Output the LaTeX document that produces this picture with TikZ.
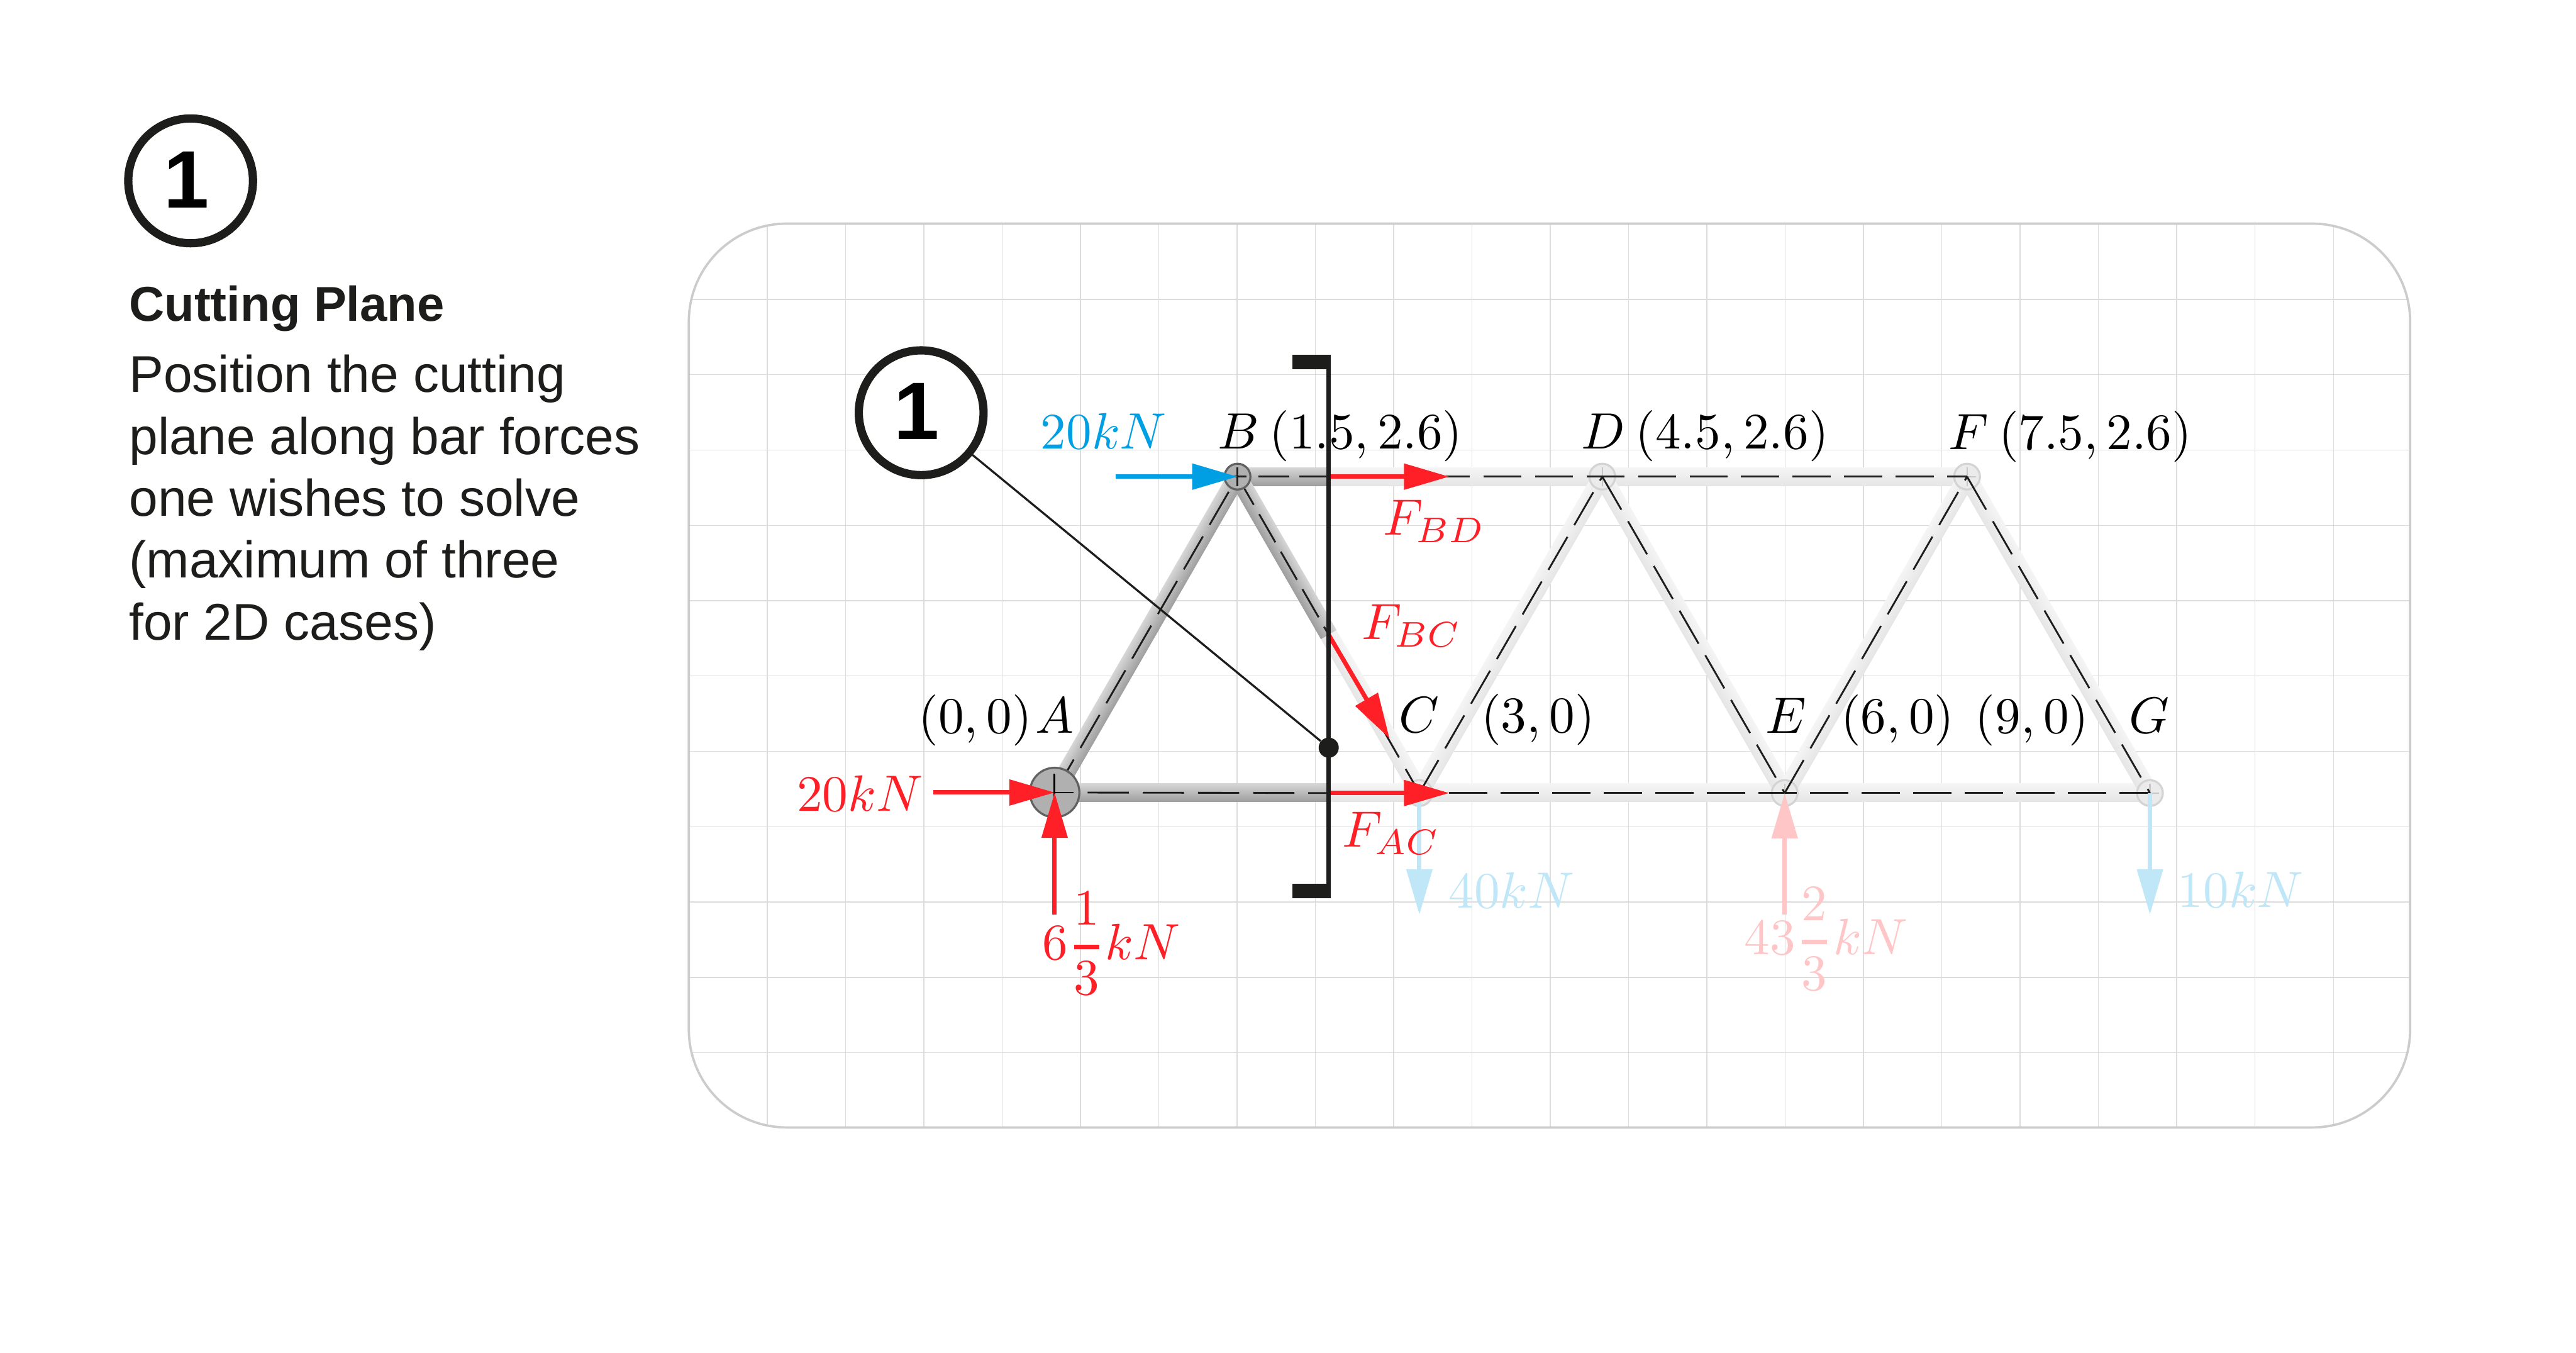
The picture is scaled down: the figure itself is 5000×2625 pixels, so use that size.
\documentclass[tikz,border=0pt]{standalone}
\usepackage[no-math]{fontspec}
\usepackage{amsmath,amssymb}
\usepackage{tikz}
\usetikzlibrary{arrows.meta, calc, positioning}

\newfontfamily\panelfont{Liberation Sans}

\definecolor{inkblack}{HTML}{1D1D1B}
\definecolor{forcered}{HTML}{FF1F27}
\definecolor{forceblue}{HTML}{009FE3}
\definecolor{fadered}{HTML}{FFC6C8}
\definecolor{fadeblue}{HTML}{BFE7F8}
\definecolor{gridgray}{HTML}{DCDCDC}
\definecolor{panelgray}{HTML}{CCCCCC}

\tikzset{
  jointcut/.style={circle, draw=black!62, fill=black!31, line width=0.04cm, inner sep=0pt, minimum size=0.5cm},
  jointfade/.style={circle, draw=black!17, fill=black!8, line width=0.04cm, inner sep=0pt, minimum size=0.5cm},
  barcut/.style={top color=black!16, bottom color=black!38},
  barfade/.style={top color=black!4, bottom color=black!10},
  memberline/.style={inkblack, line width=0.035cm, dash pattern=on 0.74cm off 0.26cm},
  forcearrow/.style={line width=0.085cm, -{Triangle[length=0.88cm,width=0.49cm]}},
  lab/.style={scale=2.82, inner sep=0pt, anchor=base west},
  badge/.style={circle, draw=inkblack, fill=white, line width=0.16cm, inner sep=0pt, minimum size=2.42cm,
    font=\panelfont\bfseries\fontsize{45}{45}\selectfont},
}
\newcommand{\trussbar}[4]{\shade[#1, transform canvas={shift={(#2)},rotate=#3}] (0,-17.5) rectangle (#4,17.5);}
\newcommand{\forcefrac}[2]{\genfrac{}{}{0.85pt}{0}{#1}{#2}}
\newcommand{\badgeone}{\kern-0.17cm\raisebox{0.05cm}{1}}

\begin{document}
\begin{tikzpicture}[x=0.01cm, y=-0.01cm]
  \path[use as bounding box, fill=white] (0,0) rectangle (5000,2625);

  % left column
  \node[badge] (badgeleft) at (370,351) {\badgeone};
  \node[anchor=base west, inner sep=0pt, text=inkblack, font=\panelfont\bfseries\fontsize{27}{34.14}\selectfont] (title) at (250,623) {Cutting Plane};
  \node[below=0.65cm of title.base west, anchor=north west, inner sep=0pt, text=inkblack, align=left,
    font=\panelfont\fontsize{28.5}{34.14}\selectfont] (body) {Position the cutting\\plane along bar forces\\one wishes to solve\\(maximum of three\\for 2D cases)};

  % panel and grid
  \begin{scope}
    \clip[rounded corners=1.9cm] (1337,434) rectangle (4678,2188);
    \foreach \gx in {0,...,20} \draw[gridgray, line width=0.017cm] ({1489+152*\gx},434) -- ({1489+152*\gx},2188);
    \foreach \gy in {0,...,10} \draw[gridgray, line width=0.017cm] (1337,{581+146.2*\gy}) -- (4678,{581+146.2*\gy});
  \end{scope}
  \draw[panelgray, line width=0.045cm, rounded corners=1.9cm] (1337,434) rectangle (4678,2188);

  % truss joints
  \coordinate (A) at (2047,1538);
  \coordinate (B) at (2402,925);
  \coordinate (C) at (2755,1539);
  \coordinate (D) at (3110,925);
  \coordinate (E) at (3464,1539);
  \coordinate (F) at (3818,925);
  \coordinate (G) at (4173,1539);
  \coordinate (cutBD) at (2579,925);
  \coordinate (cutBC) at (2579,1232);
  \coordinate (cutAC) at (2579,1539);

  % members, faded and cut
  \trussbar{barfade}{A}{0}{2126}
  \trussbar{barfade}{B}{0}{1416}
  \trussbar{barfade}{B}{-60}{708}
  \trussbar{barfade}{C}{60}{708}
  \trussbar{barfade}{D}{-60}{708}
  \trussbar{barfade}{E}{60}{708}
  \trussbar{barfade}{F}{-60}{708}
  \trussbar{barcut}{A}{60}{708}
  \trussbar{barcut}{A}{0}{532}
  \trussbar{barcut}{B}{0}{177}
  \trussbar{barcut}{B}{-60}{354}

  \foreach \n in {C,D,E,F,G} {
    \node[jointfade] (j\n) at (\n) {};
    \draw[black!22, line width=0.03cm] (\n) +(-18,0) -- +(18,0) (\n) +(0,-18) -- +(0,18);
  }

  % dashed centre lines
  \draw[memberline] (A) -- (B);
  \draw[memberline, dash pattern=on 0.8cm off 0.27cm, dash phase=0.43cm] (A) -- (cutAC);
  \draw[memberline, dash phase=0.16cm] (cutAC) ++(150,0) -- (G);
  \draw[memberline, dash pattern=on 0.6cm off 0.2cm, dash phase=0.4cm] (B) -- (cutBD);
  \draw[memberline] (cutBD) -- (F);
  \draw[memberline, dash pattern=on 0.63cm off 0.21cm] (B) -- (cutBC);
  \draw[memberline] (cutBC) -- (C);
  \draw[memberline] (C) -- (D);
  \draw[memberline] (D) -- (E);
  \draw[memberline] (E) -- (F);
  \draw[memberline] (F) -- (G);

  \node[jointcut, minimum size=0.96cm] (jA) at (A) {};
  \node[jointcut] (jB) at (B) {};
  \draw[black, line width=0.035cm] (A) +(-37,0) -- +(37,0) (A) +(0,-37) -- +(0,37);
  \draw[inkblack, line width=0.035cm] (B) +(-18,0) -- +(18,0) (B) +(0,-18) -- +(0,18);

  % faded forces
  \coordinate (loadC) at (2755,1775);
  \coordinate (reactE) at (3464,1775);
  \coordinate (loadG) at (4173,1775);
  \draw[forcearrow, fadeblue] (jC.center) -- (loadC);
  \draw[forcearrow, fadered] (reactE) -- (jE.center);
  \draw[forcearrow, fadeblue] (jG.center) -- (loadG);

  % active forces
  \coordinate (pushA) at (1811,1538);
  \coordinate (liftA) at (2047,1775);
  \coordinate (pushB) at (2165,925);
  \coordinate (tipBD) at (2813,925);
  \coordinate (tipAC) at (2813,1539);
  \coordinate (tipBC) at (2697,1433);
  \draw[forcearrow, forcered] (pushA) -- (jA.center);
  \draw[forcearrow, forcered] (liftA) -- (jA.center);
  \draw[forcearrow, forceblue] (pushB) -- (jB.center);
  \draw[forcearrow, forcered] (cutBD) -- (tipBD);
  \draw[forcearrow, forcered] (cutAC) -- (tipAC);
  \draw[forcearrow, forcered] (cutBC) -- (tipBC);

  % labels
  \node[lab] (lblA) at (1781,1423) {$(0,0)\kern0.6pt A$};
  \node[lab] (lblB) at (2362,871) {$B\kern2pt(1.5,2.6)$};
  \node[lab] (lblD) at (3068,871) {$D\kern2pt(4.5,2.6)$};
  \node[lab] (lblF) at (3780,872) {$F\kern2pt(7.5,2.6)$};
  \node[lab] (lblC) at (2714,1422) {$C$};
  \node[lab] (posC) at (2873,1422) {$(3,0)$};
  \node[lab] (lblE) at (3425,1423) {$E$};
  \node[lab] (posE) at (3571,1423) {$(6,0)$};
  \node[lab] (posG) at (3832,1423) {$(9,0)$};
  \node[lab] (lblG) at (4131,1423) {$G$};
  \node[lab, text=forcered] (frcA) at (1545,1574) {$20kN$};
  \node[lab, text=forceblue] (frcB) at (2018,871) {$20kN$};
  \node[lab, text=forcered] (reactA) at (2021,1862) {$6\forcefrac{1}{3}kN$};
  \node[lab, text=fadered] (reactEl) at (3384,1853) {$43\forcefrac{2}{3}kN$};
  \node[lab, text=fadeblue] (frcC) at (2810,1762) {$40kN$};
  \node[lab, text=fadeblue] (frcG) at (4225,1761) {$10kN$};
  \node[lab, text=forcered] (fBD) at (2683,1038) {$F_{BD}$};
  \node[lab, text=forcered] (fBC) at (2641,1241) {$F_{BC}$};
  \node[lab, text=forcered] (fAC) at (2603,1644) {$F_{AC}$};

  % cutting plane
  \fill[inkblack] (2508,688) rectangle (2583,716);
  \fill[inkblack] (2508,1715) rectangle (2583,1743);
  \draw[inkblack, line width=0.08cm] (2579,700) -- (2579,1730);
  \node[circle, fill=inkblack, inner sep=0pt, minimum size=0.39cm] (cutdot) at (2579,1451) {};
  \node[badge] (badgecut) at (1788,801) {\badgeone};
  \draw[inkblack, line width=0.04cm] (badgecut) -- (cutdot);
\end{tikzpicture}
\end{document}
